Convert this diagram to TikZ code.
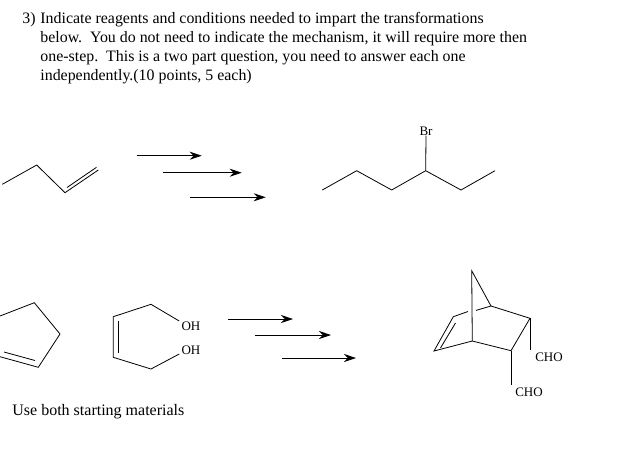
\documentclass[tikz,border=0pt]{standalone}
\usepackage{fontspec}
\setmainfont{Liberation Serif}
\usetikzlibrary{arrows.meta,calc}
\begin{document}
\begin{tikzpicture}[x=1pt,y=-1pt,line width=0.8pt,
  bond/.style={line width=0.8pt},
  rxn/.style={line width=0.8pt,-{Stealth[length=12pt,width=8pt]}},
  hd/.style={anchor=west,inner sep=0,font=\fontsize{15.9}{18}\selectfont},
  lbl/.style={inner sep=0,font=\fontsize{13}{15}\selectfont}]
\useasboundingbox (0,0) rectangle (633,467);
% heading
\node[hd] (n3) at (22,20) {3)};
\node[hd] (h1) at (40,20) {Indicate reagents and conditions needed to impart the transformations};
\node[hd] (h2) at (40,39) {below.\ \ You do not need to indicate the mechanism, it will require more then};
\node[hd] (h3) at (40,58) {one-step.\ \ This is a two part question, you need to answer each one};
\node[hd] (h4) at (40,77) {independently.(10 points, 5 each)};
% butene
\draw[bond] (2.3,184.3) -- (36.7,165) -- (65,192.7) -- (98.3,170);
\draw[bond] (67,187.5) -- (96.5,167.3);
% top arrows
\coordinate (a1s) at (136.7,155.7); \coordinate (a1e) at (201.7,155.7);
\coordinate (a2s) at (163.3,172.7); \coordinate (a2e) at (241.7,172.7);
\coordinate (a3s) at (190,197.3); \coordinate (a3e) at (265.7,197.3);
\draw[rxn] (a1s) -- (a1e); \draw[rxn] (a2s) -- (a2e); \draw[rxn] (a3s) -- (a3e);
% bromide
\node[lbl] (br) at (426,131) {Br};
\draw[bond] (322.3,190) -- (356.7,170.7) -- (391.7,190) -- (425.7,170.7) -- (461,190) -- (495,170.7);
\draw[bond] (425.7,170.7) -- (br.south);
% cyclopentene
\draw[bond] (0,316) -- (34.3,302.7) -- (60,334) -- (38.3,367.3) -- (0,356.7);
\draw[bond] (4,352) -- (35,360.5);
% diol
\node[lbl] (oh1) at (191,326) {OH};
\node[lbl] (oh2) at (191,350) {OH};
\draw[bond] ($(oh1.west)+(-2,-5)$) -- (151,304.3) -- (113.3,316.7) -- (113.3,357.3) -- (151,369) -- ($(oh2.west)+(-2,4)$);
\draw[bond] (118.8,321) -- (118.8,353);
% bottom arrows
\coordinate (b1s) at (228,319); \coordinate (b1e) at (293,319);
\coordinate (b2s) at (255,335); \coordinate (b2e) at (331,335);
\coordinate (b3s) at (282,358); \coordinate (b3e) at (356,358);
\draw[rxn] (b1s) -- (b1e); \draw[rxn] (b2s) -- (b2e); \draw[rxn] (b3s) -- (b3e);
% norbornene
\node[lbl] (cho1) at (549,357) {CHO};
\node[lbl] (cho2) at (529,392) {CHO};
\draw[bond] (491,306) -- (471.7,270.7) -- (472.3,341);
\draw[bond] (491,306) -- (476,310.4);
\draw[bond] (468,311.5) -- (453.3,316.7) -- (434,351) -- (472.3,341) -- (511,350.7) -- (530,318.3) -- (491,306);
\draw[bond] (455.5,323) -- (440.5,348);
\draw[bond] (530,318.3) -- (530,350);
\draw[bond] (511,350.7) -- (511,385);
\node[lbl,anchor=west,font=\fontsize{16}{18}\selectfont] (use) at (12,412) {Use both starting materials};
\end{tikzpicture}
\end{document}
